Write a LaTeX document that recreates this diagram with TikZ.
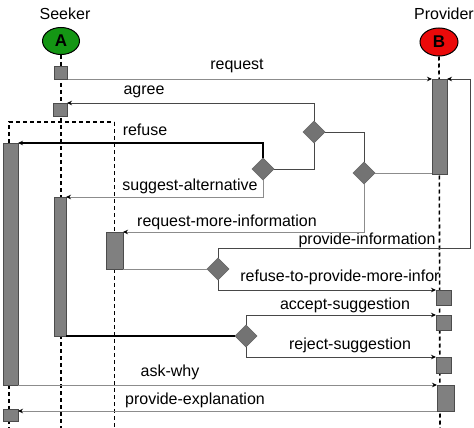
\documentclass[tikz,border=0pt]{standalone}
\usepackage{fontspec}
\setmainfont{Liberation Sans}
\usetikzlibrary{shapes.geometric,arrows.meta}
\pgfdeclarelayer{bg}\pgfsetlayers{bg,main}
\begin{document}
\begin{tikzpicture}[x=1pt,y=-1pt, font=\fontsize{16}{18}\selectfont,
  act/.style={draw=black!70, fill=black!50, line width=0.6pt, inner sep=0, outer sep=0},
  dec/.style={diamond, aspect=1, draw=black!60, fill=black!55, inner sep=0, outer sep=0, minimum width=22pt, minimum height=22pt},
  agent/.style={ellipse, draw=black, line width=1pt, inner sep=0, font=\fontsize{17}{18}\selectfont\bfseries},
  life/.style={line width=1.6pt, dash pattern=on 4pt off 3pt},
  thinlife/.style={line width=0.9pt, dash pattern=on 4pt off 3pt},
  lbl/.style={inner sep=0},
  arr/.style={-{Stealth[length=5pt,width=4.5pt,color=black]}},
  ln/.style={line width=0.8pt, draw=black!45},
  dk/.style={line width=0.9pt, draw=black!72},
  bk/.style={line width=1.4pt, draw=black},
]
\useasboundingbox (0,0) rectangle (474,428);

% agents
\node[lbl] (seekl) at (65,14) {Seeker};
\node[lbl] (provl) at (444,14) {Provider};
\node[agent, fill={rgb,255:red,20;green,150;blue,20}, minimum width=37pt, minimum height=27pt] (A) at (61,41) {A};
\node[agent, fill={rgb,255:red,235;green,10;blue,10}, minimum width=38pt, minimum height=28pt] (B) at (439,42) {B};

% activations
\node[act, minimum width=13pt, minimum height=13pt] (s1) at (61,72.5) {};
\node[act, minimum width=14pt, minimum height=13pt] (s2) at (60,109.5) {};
\node[act, minimum width=15pt, minimum height=242pt] (barL) at (10.5,264) {};
\node[act, minimum width=15pt, minimum height=12pt] (sL) at (10.5,415) {};
\node[act, minimum width=12pt, minimum height=139pt] (bar2) at (60,266.5) {};
\node[act, minimum width=17pt, minimum height=37pt] (bar3) at (114.5,250.5) {};
\node[act, minimum width=15pt, minimum height=95pt] (barP) at (439.5,126.5) {};
\node[act, minimum width=15pt, minimum height=15pt] (p1) at (443.5,297.5) {};
\node[act, minimum width=15pt, minimum height=15pt] (p2) at (443.5,322.5) {};
\node[act, minimum width=15pt, minimum height=16pt] (p3) at (443.5,365) {};
\node[act, minimum width=17pt, minimum height=26pt] (p4) at (445.5,398) {};

% decisions
\node[dec] (d1) at (314,132) {};
\node[dec] (d2) at (364,173) {};
\node[dec] (d3) at (263,169) {};
\node[dec] (d4) at (218,269) {};
\node[dec] (d5) at (246,336) {};

% free ends
\coordinate (prb) at (470,248);
\coordinate (prt) at (470,79);
\coordinate (boxtr) at (114,122);
\coordinate (boxbr) at (114,428);
\coordinate (seekbot) at (61,428);
\coordinate (provbot) at (440,428);
\coordinate (lbot) at (9,428);

% labels
\node[lbl] (lrequest) at (237,66) {request};
\node[lbl] (lagree) at (144,92) {agree};
\node[lbl] (lrefuse) at (145,130) {refuse};
\node[lbl] (lsugg) at (190,186) {suggest-alternative};
\node[lbl] (lrmi) at (227,222) {request-more-information};
\node[lbl] (lpi) at (367,240) {provide-information};
\node[lbl] (lrtp) at (340,277) {refuse-to-provide-more-infor};
\node[lbl] (lacc) at (345,305) {accept-suggestion};
\node[lbl] (lrej) at (350,345) {reject-suggestion};
\node[lbl] (lask) at (170,372) {ask-why};
\node[lbl] (lexp) at (195,400) {provide-explanation};

\begin{pgfonlayer}{bg}
  % lifelines
  \draw[life] (A.south) -- (seekbot);
  \draw[life] (B.south) -- (provbot);
  \draw[life] (barL.south -| lbot) -- (lbot);
  \draw[life] (barL.north -| lbot) |- (boxtr);
  \draw[thinlife] (boxtr) -- (boxbr);
\end{pgfonlayer}

% messages
\draw[ln, arr] (s1.south east) -- (barP.north west);
\draw[dk, arr] (d4.north) |- (prb) -- (prt) -- (barP.north east);
\draw[ln] (d2.east) -- (d2.east -| barP.west);
\draw[dk] (d2.north) |- (d1.east);
\draw[dk, arr] (d1.north) |- (s2.north east);
\draw[dk] (d1.south) |- (d3.east);
\draw[bk, arr] (d3.north) |- (barL.north east);
\draw[ln, arr] (d3.south) |- (bar2.north east);
\draw[ln, arr] (d2.south) |- (bar3.north east);
\draw[ln] (bar3.south east) -- (d4.west);
\draw[dk, arr] (d4.south) |- (p1.north west);
\draw[bk] (bar2.south east) -- (d5.west);
\draw[dk, arr] (d5.north) |- (p2.north west);
\draw[dk, arr] (d5.south) |- (p3.north west);
\draw[ln, arr] (barL.south east) -- (p4.north west);
\draw[ln, arr] (p4.south west) -- (p4.south west -| sL.east);
\end{tikzpicture}
\end{document}
